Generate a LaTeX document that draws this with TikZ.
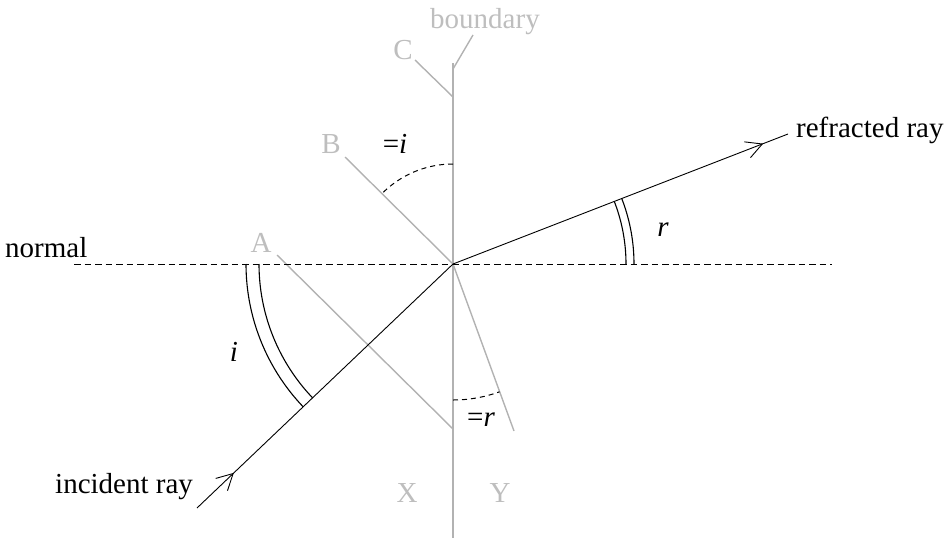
\documentclass[tikz,border=0pt]{standalone}
\usepackage{fontspec}
\setmainfont{Liberation Serif}
\usetikzlibrary{arrows.meta,decorations.markings}
\definecolor{linegray}{RGB}{178,178,178}
\definecolor{labelgray}{RGB}{190,190,190}
\begin{document}
\begin{tikzpicture}[x=1pt,y=-1pt,
  txt/.style={inner sep=0pt,font=\fontsize{29}{33}\selectfont},
  glabel/.style={txt,text=labelgray},
  ray/.style={line width=0.9pt,black},
  gline/.style={line width=1.4pt,linegray},
  bline/.style={line width=1.8pt,linegray},
  arcline/.style={line width=1.1pt,black},
  darc/.style={line width=1pt,black,dash pattern=on 5pt off 4pt},
  normalline/.style={line width=1pt,black,dash pattern=on 6.5pt off 4pt}
]
\useasboundingbox (0,0) rectangle (952,538);
% key points
\coordinate (O) at (453,264);
\coordinate (btop) at (453,63);
\coordinate (bbot) at (453,538);
\coordinate (nl) at (74,264);
\coordinate (nr) at (832,264);
\coordinate (inc) at (197,508);
\coordinate (ref) at (788,134);
\coordinate (Bend) at (345,157);
\coordinate (Astart) at (277,255);
\coordinate (Aend) at (453,429);
\coordinate (Cstart) at (453,97);
\coordinate (Cend) at (415,60);
\coordinate (bpa) at (453,69);
\coordinate (bpb) at (473,35);
\coordinate (Yend) at (514,431);
% labels
\node[glabel,anchor=base] (lbound) at (485,28) {boundary};
\node[glabel] (lC) at (403,50) {C};
\node[glabel] (lB) at (331,144) {B};
\node[glabel] (lA) at (261,243) {A};
\node[glabel] (lX) at (407,493) {X};
\node[glabel] (lY) at (500,493) {Y};
\node[txt] (lei) at (395,144) {=\textit{i}};
\node[txt] (ler) at (481,420) {=\textit{r}};
\node[txt] (li) at (234,352) {\textit{i}};
\node[txt] (lr) at (663,230) {\textit{r}};
\node[txt,anchor=base west] (lnormal) at (5,257) {normal};
\node[txt,anchor=base west] (lref) at (796,137) {refracted ray};
\node[txt,anchor=base west] (linc) at (55,493) {incident ray};
% gray lines
\draw[bline] (btop) -- (bbot);
\draw[gline] (bpa) -- (bpb);
\draw[gline] (Cstart) -- (Cend);
\draw[gline] (O) -- (Bend);
\draw[gline] (Astart) -- (Aend);
\draw[gline] (O) -- (Yend);
% normal
\draw[normalline] (nl) -- (nr);
% rays
\draw[ray,postaction={decorate},decoration={markings,mark=at position 0.144 with {\arrow{Straight Barb[length=16pt,width=17pt,line width=0.9pt]}}}] (inc) -- (O);
\draw[ray,postaction={decorate},decoration={markings,mark=at position 0.926 with {\arrow{Straight Barb[length=16pt,width=17pt,line width=0.9pt]}}}] (O) -- (ref);
% angle arcs
\draw[arcline] plot[domain=180:136.4,samples=50] ({453+194*cos(\x)},{264+194*sin(\x)});
\draw[arcline] plot[domain=180:136.4,samples=50] ({453+207*cos(\x)},{264+207*sin(\x)});
\draw[arcline] plot[domain=0:-21.2,samples=30] ({453+173*cos(\x)},{264+173*sin(\x)});
\draw[arcline] plot[domain=0:-21.2,samples=30] ({453+181*cos(\x)},{264+181*sin(\x)});
\draw[darc] plot[domain=270:225,samples=40] ({453+100*cos(\x)},{264+100*sin(\x)});
\draw[darc] plot[domain=90:70,samples=30] ({453+136*cos(\x)},{264+136*sin(\x)});
\end{tikzpicture}
\end{document}
